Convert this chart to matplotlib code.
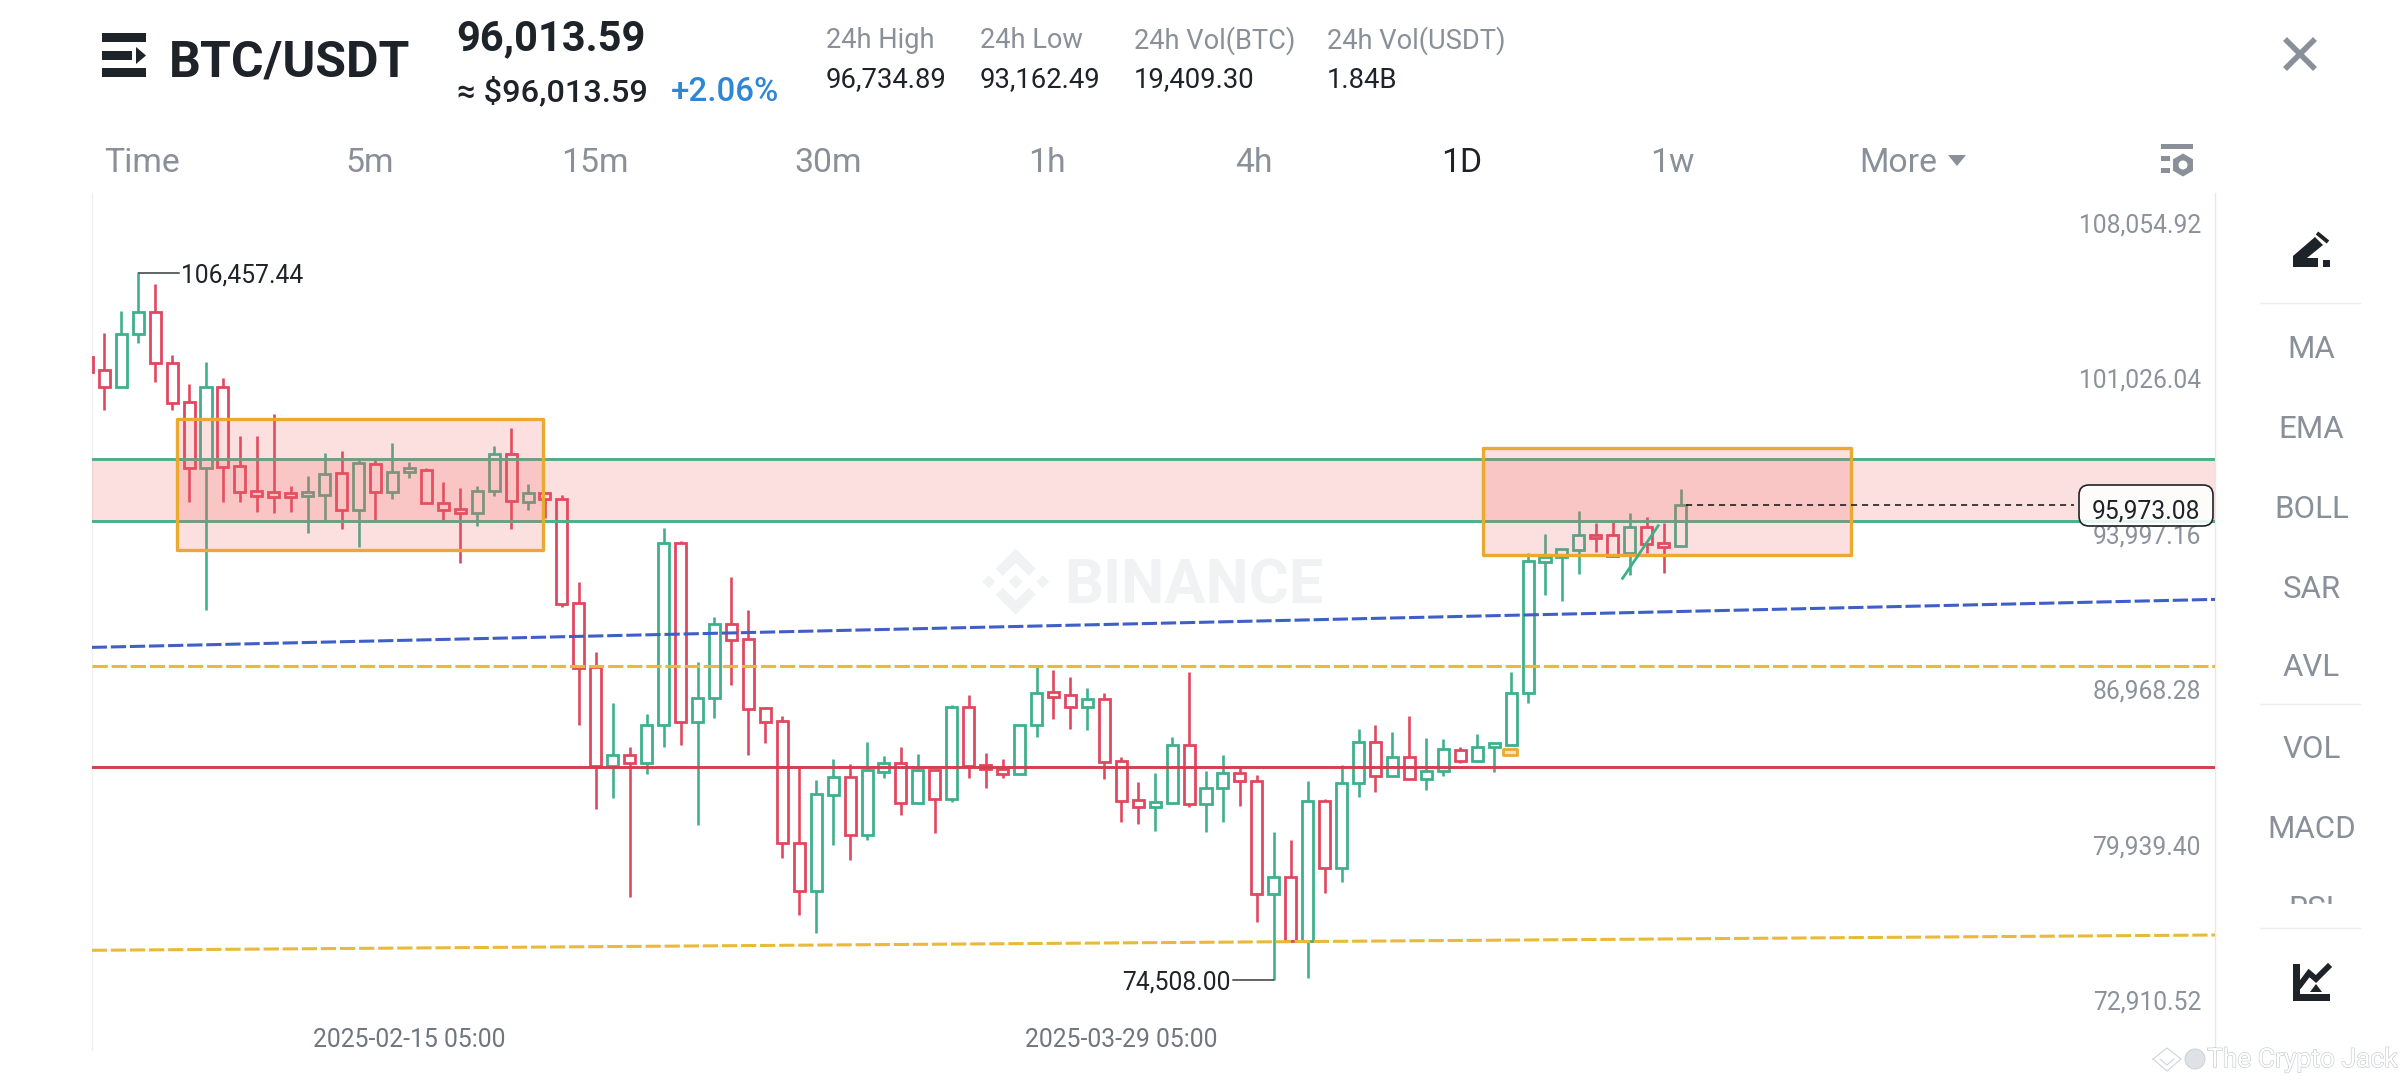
import matplotlib
matplotlib.use("Agg")
import matplotlib.pyplot as plt
from matplotlib.patches import Rectangle, Polygon, FancyBboxPatch, Circle, RegularPolygon
import matplotlib.patheffects as pe

plt.rcParams["font.family"] = ["Roboto", "DejaVu Sans"]

W, H = 2400, 1080

# Daily candles, oldest first: open, high, low, close
opens = [102661, 102074, 101292, 103701, 104708, 102404, 100614, 97659, 101319, 97735,
         96619, 96547, 96501, 96380, 96425, 97406, 95747, 97841, 96574, 97465,
         97555, 96077, 95779, 95625, 96619, 98278, 96122, 96529, 96244, 91531,
         88666, 84179, 84675, 84300, 86031, 94242, 86180, 87238, 90583, 89918,
         86786, 86212, 80712, 78543, 82868, 83668, 81060, 83921, 84300, 82520,
         83998, 82674, 86831, 84224, 84030, 83804, 86031, 87509, 87388, 86858,
         87206, 84404, 82642, 82339, 82493, 85127, 82461, 83171, 83876, 83501,
         78381, 79149, 76284, 82597, 79583, 83396, 85250, 83727, 84572, 83577,
         83966, 84902, 84418, 85050, 85127, 87464, 93384, 93637, 93939, 94617,
         94617, 93790, 94993, 94242, 94120]
highs = [102661, 103759, 104740, 106457.44, 105960, 102752, 101427, 102449, 101699, 99105,
         99091, 100085, 96832, 97284, 98311, 98426, 98007, 98007, 98788, 97930,
         97645, 96999, 96728, 96832, 98653, 99439, 96922, 96560, 96425, 92480,
         89344, 87012, 85050, 86515, 94947, 94360, 88892, 90925, 92733, 91228,
         86831, 86438, 84146, 83546, 84481, 84269, 85250, 84630, 85050, 84707,
         83998, 86935, 87388, 84780, 84481, 86031, 88666, 88517, 88213, 87690,
         87464, 84572, 83469, 83876, 85503, 88440, 83953, 84675, 84179, 83772,
         81182, 80834, 83515, 82674, 84224, 85837, 86031, 85728, 86438, 85430,
         85398, 85050, 85611, 85232, 88413, 93818, 94663, 93971, 95715, 95147,
         95263, 95598, 95417, 95173, 96682]
lows = [101983, 100266, 101292, 103280, 101544, 100266, 96122, 91228, 96122, 96122,
        95670, 95598, 95670, 94694, 95295, 94875, 94090, 95218, 96231, 97207,
        96050, 95218, 93366, 95024, 96393, 94875, 95747, 95385, 91350, 86031,
        82235, 82719, 78272, 83817, 85050, 85127, 81512, 86334, 87840, 84675,
        85204, 80007, 77445, 76617, 80608, 79931, 80834, 83623, 81964, 82461,
        81137, 82565, 83650, 83171, 83623, 83804, 85503, 86289, 85851, 85805,
        83577, 81634, 81558, 81255, 82448, 82312, 81210, 81661, 82384, 77143,
        74508, 76284, 74585, 78453, 78951, 82792, 83017, 83695, 83577, 83094,
        83740, 84300, 84373, 83921, 85127, 87039, 91906, 91649, 92841, 93864,
        93610, 92810, 93790, 92887, 94120]
closes = [101983, 101292, 103701, 104708, 102376, 100569, 97659, 101319, 97704, 96574,
          96380, 96348, 96321, 96574, 97375, 95747, 97858, 96574, 97465, 97632,
          96050, 95747, 95598, 96619, 98278, 96154, 96501, 96231, 91499, 88621,
          84179, 84675, 84300, 86031, 94242, 86180, 87238, 90583, 89873, 86753,
          86180, 80685, 78543, 82913, 83668, 81060, 83998, 84300, 82520, 83998,
          82674, 86831, 84179, 84057, 83804, 86031, 87491, 87310, 86858, 87206,
          84373, 82597, 82339, 82538, 85127, 82461, 83171, 83876, 83501, 78381,
          79149, 76284, 82597, 79583, 83396, 85250, 83727, 84572, 83577, 83966,
          84933, 84418, 85050, 85204, 87500, 93442, 93637, 93971, 94617, 94468,
          93668, 94993, 94211, 94061, 95973.08]

# Price axis and date axis labels
price_ticks = [108054.92, 101026.04, 93997.16, 86968.28, 79939.40, 72910.52]
date_ticks = [19, 61]
date_labels = ["2025-02-15 05:00", "2025-03-29 05:00"]

high_price = 106457.44
high_index = 3
low_price = 74508.00
low_index = 70
last_price = 95973.08

# Drawn analysis levels
band_top, band_bottom = 98038, 95264
red_level = 84148
upper_dash_level = 88698
blue_trend = (89539, 91708)
lower_trend = (75850, 76541)
boxes = [(5.31, 26.9, 93939, 99859), (82.36, 104.03, 93714, 98563)]
stroke_x, stroke_y = (90.58, 92.68), (92661, 95037)
marker_x, marker_y = (83.52, 84.35), (84675, 84933)

# Header text
symbol = "BTC/USDT"
price_text = "96,013.59"
fiat_text = "≈ $96,013.59"
change_text = "+2.06%"
stats = [("24h High", "96,734.89", 826), ("24h Low", "93,162.49", 980),
         ("24h Vol(BTC)", "19,409.30", 1134), ("24h Vol(USDT)", "1.84B", 1327)]
intervals = [("Time", 142), ("5m", 370), ("15m", 595), ("30m", 828), ("1h", 1047),
             ("4h", 1254), ("1D", 1462), ("1w", 1672), ("More", 1898)]
side_items = [("MA", 349), ("EMA", 429), ("BOLL", 509), ("SAR", 589),
              ("AVL", 668), ("VOL", 749), ("MACD", 829)]

RED = "#e0485f"
GREEN = "#3fb08c"
INK = "#1e2329"
GREY = "#8a9099"
PRICE_GREY = "#8b929b"
BAND = (0.95, 0.375, 0.38)
LABEL_SIZE = 17.7

fig = plt.figure(figsize=(W / 100, H / 100), dpi=100, facecolor="white")

# Full-figure pixel canvas that holds the app chrome and the watermarks
ui = fig.add_axes([0, 0, 1, 1], zorder=0)
ui.set_xlim(0, W)
ui.set_ylim(H, 0)
ui.axis("off")

# Price chart sits over the canvas with a transparent background
AX_L, AX_R, AX_T, AX_B = 91.7, 2215.0, 193.0, 1025.0
ax = fig.add_axes([AX_L / W, 1 - AX_B / H, (AX_R - AX_L) / W, (AX_B - AX_T) / H], zorder=1)
ax.patch.set_alpha(0)
ax.set_xlim(0.2566, 125.53)
ax.set_ylim(72474, 110073)
for side in ax.spines.values():
    side.set_visible(False)
ax.set_yticks([])
ax.set_xticks(date_ticks)
ax.set_xticklabels(date_labels, fontsize=17.8, color="#6f7680")
ax.tick_params(axis="x", length=0, pad=2.5)

# Candles: hollow bodies with the wicks stopping at the body edge
BODY_W = 0.65
for i, (o, h, l, c) in enumerate(zip(opens, highs, lows, closes)):
    color = GREEN if c >= o else RED
    top, bottom = max(o, c), min(o, c)
    ax.plot([i, i], [top, h], color=color, lw=1.9, solid_capstyle="butt", zorder=2)
    ax.plot([i, i], [l, bottom], color=color, lw=1.9, solid_capstyle="butt", zorder=2)
    ax.add_patch(Rectangle((i - BODY_W / 2, bottom), BODY_W, top - bottom, fill=False,
                           edgecolor=color, lw=2.0, zorder=2, joinstyle="miter"))

# Shaded resistance band and its two borders
ax.axhspan(band_bottom, band_top, color=BAND, alpha=0.2, lw=0, zorder=3)
ax.axhline(band_top, color="#4dae88", lw=2.1, zorder=4)
ax.axhline(band_bottom, color="#4dae88", lw=2.1, zorder=4)
ax.axhline(red_level, color="#d33f4a", lw=2.1, zorder=4)

# Trend lines and dashed levels
dash = (0, (5.0, 1.25))
xl = ax.get_xlim()
ax.plot(xl, blue_trend, color="#3f5fc8", lw=2.2, ls=dash, dash_capstyle="butt", zorder=4)
ax.plot(xl, [upper_dash_level] * 2, color="#e9b93a", lw=2.2, ls=dash, dash_capstyle="butt", zorder=4)
ax.plot(xl, lower_trend, color="#e9b93a", lw=2.2, ls=dash, dash_capstyle="butt", zorder=4)

# Consolidation boxes
for x0, x1, y0, y1 in boxes:
    ax.add_patch(Rectangle((x0, y0), x1 - x0, y1 - y0, facecolor=BAND + (0.2,),
                           edgecolor="#eaaa30", lw=2.4, joinstyle="round", zorder=5))
ax.plot(stroke_x, stroke_y, color=GREEN, lw=2.0, zorder=6)
ax.add_patch(Rectangle((marker_x[0], marker_y[0]), marker_x[1] - marker_x[0],
                       marker_y[1] - marker_y[0], facecolor="#f6e4bb",
                       edgecolor="#eaaa30", lw=2.0, joinstyle="round", zorder=6))

# Last-price guide
ax.plot([len(opens) - 1 + BODY_W / 2, 117.2], [last_price] * 2, color="#111111", lw=1.1,
        ls=(0, (4, 3.2)), zorder=6)

# Top layer for the price tag and the author mark
ui_top = fig.add_axes([0, 0, 1, 1], zorder=1.5)
ui_top.set_xlim(0, W)
ui_top.set_ylim(H, 0)
ui_top.axis("off")
ui_top.add_patch(FancyBboxPatch((2079, 485), 134, 41, boxstyle="round,pad=0,rounding_size=10",
                                facecolor=(1, 1, 1, 0.88), edgecolor=INK, lw=1.2))
ui_top.text(2200, 511, f"{last_price:,.2f}", ha="right", va="center", fontsize=LABEL_SIZE, color=INK)

# Price scale labels float a little above their levels
for value in price_ticks:
    ax.annotate(f"{value:,.2f}", xy=(1, value), xycoords=ax.get_yaxis_transform(),
                xytext=(-14, 12.5), textcoords="offset pixels", ha="right", va="center",
                fontsize=LABEL_SIZE, color=PRICE_GREY, zorder=1)

# Extreme markers with their leader lines
leader = dict(arrowstyle="-", color="#333a42", lw=1.1, shrinkA=0, shrinkB=0)
ax.annotate("", xy=(high_index, high_price), xytext=(41, 0), textcoords="offset pixels",
            arrowprops=leader, zorder=7)
ax.annotate(f"{high_price:,.2f}", xy=(high_index, high_price), xytext=(43, -2),
            textcoords="offset pixels", ha="left", va="center", fontsize=LABEL_SIZE, color=INK, zorder=7)
ax.annotate("", xy=(low_index, low_price), xytext=(-41, 0), textcoords="offset pixels",
            arrowprops=leader, zorder=7)
ax.annotate(f"{low_price:,.2f}", xy=(low_index, low_price), xytext=(-43, -3),
            textcoords="offset pixels", ha="right", va="center", fontsize=LABEL_SIZE, color=INK, zorder=7)

# Header
for y0, y1 in ((33, 42), (68, 77)):
    ui.add_patch(Rectangle((102, y0), 44, y1 - y0, color=INK, lw=0))
ui.add_patch(Rectangle((102, 51), 30, 9, color=INK, lw=0))
ui.add_patch(Polygon([(136, 47), (146, 55.5), (136, 64)], color=INK, lw=0))
ui.text(169, 63, symbol, fontsize=36, fontweight="bold", color=INK, ha="left", va="center")
ui.text(456, 39, price_text, fontsize=30, fontweight="bold", color=INK, ha="left", va="center")
ui.text(457, 92, fiat_text, fontsize=23.4, fontweight="medium", color=INK, ha="left", va="center")
ui.text(671, 92, change_text, fontsize=23.8, fontweight="medium", color="#2f86d6", ha="left", va="center")
for label, value, x in stats:
    ui.text(x, 41, label, fontsize=19.6, color=GREY, ha="left", va="center")
    ui.text(x, 80, value, fontsize=19.8, color=INK, ha="left", va="center")

# Close button
ui.plot([2285, 2315], [39, 69], color="#8a9099", lw=4.0, solid_capstyle="butt")
ui.plot([2285, 2315], [69, 39], color="#8a9099", lw=4.0, solid_capstyle="butt")

# Interval tabs
for label, x in intervals:
    active = label == "1D"
    ui.text(x, 163, label, fontsize=24.3, color=INK if active else GREY, ha="center", va="center",
            fontweight="normal")
ui.add_patch(Polygon([(1948, 155), (1966, 155), (1957, 166)], color=GREY, lw=0))

# Chart settings glyph
ui.add_patch(Rectangle((2161, 144), 32, 5, color=GREY, lw=0))
ui.add_patch(Rectangle((2161, 156), 9, 5, color=GREY, lw=0))
ui.add_patch(Rectangle((2161, 168), 9, 5, color=GREY, lw=0))
ui.add_patch(RegularPolygon((2183, 165), numVertices=6, radius=11.5, color=GREY, lw=0))
ui.add_patch(Circle((2183, 165), 4.5, facecolor="white", lw=0))

# Side panel
for label, y in side_items:
    ui.text(2311.5, y, label, fontsize=22.5, color=GREY, ha="center", va="center")
rsi = ui.text(2311.5, 909, "RSI", fontsize=22.5, color=GREY, ha="center", va="center")
rsi.set_clip_path(Rectangle((2250, 880), 120, 24, transform=ui.transData))
rsi.set_clip_on(True)
for y in (303, 704, 928):
    ui.plot([2260, 2360], [y, y], color="#eceef0", lw=1.0)
ui.plot([AX_R, AX_R], [193, 1050], color="#e6e8eb", lw=1.0)
ui.plot([AX_L, AX_L], [193, 1050], color="#eef0f2", lw=1.0)

# Drawing tool glyph
ui.add_patch(Polygon([(2293, 267), (2293, 256), (2315, 237), (2323, 245), (2307, 258), (2318, 258),
                      (2318, 267)], color=INK, lw=0))
ui.plot([2317, 2328], [233, 242], color=INK, lw=2.8, solid_capstyle="butt")
ui.add_patch(Rectangle((2323, 260), 7, 7, color=INK, lw=0))

# Indicator glyph
ui.add_patch(Polygon([(2293, 964), (2293, 1001), (2330, 1001), (2330, 994), (2300, 994), (2300, 964)],
                     color=INK, lw=0))
ui.plot([2300, 2309, 2316, 2328], [985, 973, 979, 967], color=INK, lw=4.2, solid_joinstyle="miter")
ui.add_patch(Polygon([(2310, 992), (2322, 992), (2316, 984)], color=INK, lw=0))

# Exchange watermark in the chart background
logo_cx, logo_cy, r = 1015.7, 581.7, 33
wm = "#f1f2f4"
for dx, dy, s in ((-r + 6, 0, 6.5), (0, 0, 7), (r - 6, 0, 6.5)):
    ui.add_patch(Polygon([(logo_cx + dx - s, logo_cy + dy), (logo_cx + dx, logo_cy + dy - s),
                          (logo_cx + dx + s, logo_cy + dy), (logo_cx + dx, logo_cy + dy + s)],
                         color=wm, lw=0))
for sign in (-1, 1):
    ui.add_patch(Polygon([(logo_cx - 20, logo_cy + sign * 13), (logo_cx, logo_cy + sign * 33),
                          (logo_cx + 20, logo_cy + sign * 13), (logo_cx + 13, logo_cy + sign * 6),
                          (logo_cx, logo_cy + sign * 19), (logo_cx - 13, logo_cy + sign * 6)],
                         color=wm, lw=0))
ui.text(1194, 587, "BINANCE", fontsize=44, fontweight="bold", color=wm, ha="center", va="center")

# Author mark in the lower right corner
ui_top.text(2207, 1060, "The Crypto Jack", fontsize=19, color="white", ha="left", va="center",
            path_effects=[pe.Stroke(linewidth=0.9, foreground="#c6cacf"), pe.Normal()])
ui_top.plot([2153, 2167, 2181, 2167, 2153], [1059, 1048, 1059, 1071, 1059], color="#cfd3d7", lw=0.8)
ui_top.plot([2160, 2167, 2174], [1059, 1065, 1059], color="#cfd3d7", lw=0.8)
ui_top.add_patch(Circle((2195, 1059), 10, facecolor="#dfe2e5", edgecolor="#c6cacf", lw=0.6))

fig.savefig("out.png", dpi=100)
